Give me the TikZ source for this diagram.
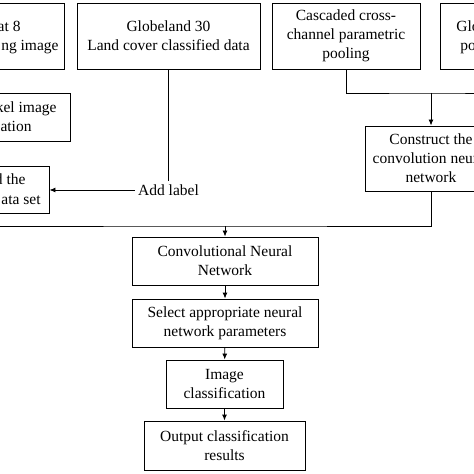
\documentclass[tikz,border=0pt]{standalone}
\usepackage{fontspec}
\setmainfont{Liberation Serif}
\usetikzlibrary{arrows.meta}
\tikzset{
	box/.style={draw, align=center, inner sep=0pt, font=\fontsize{15.5bp}{19bp}\selectfont},
	txt/.style={inner sep=0pt, font=\fontsize{15.5bp}{19bp}\selectfont},
	arr/.style={-{Latex[length=6bp,width=5bp]}}
}
\begin{document}
\begin{tikzpicture}[x=1bp, y=-1bp, line width=.9bp]
		\def \top{36}
		\def \th{66bp}
		\useasboundingbox (0,0) rectangle (474,474);
		\clip (0,0) rectangle (474,474);
		\fill[white] (0,0) rectangle (474,474);
		% top row
		\node[box, minimum width=154bp, minimum height=\th] (land) at (-13,\top) {};
		\node[txt, anchor=base east] (land1) at (21,32) {at 8};
		\node[txt, anchor=base east] (land2) at (59,51) {ng image};
		\node[box, minimum width=183bp, minimum height=\th] (globe) at (168.5,\top) {Globeland 30\\Land cover classified data};
		\node[box, minimum width=148bp, minimum height=\th] (casc) at (346,\top) {Cascaded cross-\\channel parametric\\pooling};
		\node[box, minimum width=120bp, minimum height=\th] (gap) at (500,\top) {};
		\node[txt, anchor=base west] (gap1) at (456,32) {Glo};
		\node[txt, anchor=base west] (gap2) at (460,51) {po};
		% left column
		\node[box, minimum width=150bp, minimum height=48bp] (spix) at (-5,117) {};
		\node[txt, anchor=base east] (spix1) at (57,113) {kel image};
		\node[txt, anchor=base east] (spix2) at (32,132) {ation};
		\node[box, minimum width=140bp, minimum height=47bp] (build) at (-21,189.5) {};
		\node[txt, anchor=base east] (build1) at (26,185) {d the};
		\node[txt, anchor=base east] (build2) at (41,204.5) {ata set};
		\node[txt, inner sep=3bp] (label) at (168.5,190) {Add label};
		% right column
		\node[box, minimum width=132bp, minimum height=65bp] (cons) at (431,158.5) {Construct the\\convolution neural\\network};
		% main column
		\node[box, minimum width=186bp, minimum height=48bp] (cnn) at (225,261) {Convolutional Neural\\Network};
		\node[box, minimum width=186bp, minimum height=48bp] (sel) at (225,323) {Select appropriate neural\\network parameters};
		\node[box, minimum width=117bp, minimum height=48bp] (cls) at (224.5,384) {Image\\classification};
		\node[box, minimum width=161bp, minimum height=49bp] (out) at (224.5,445.5) {Output classification\\results};
		% connectors
		\coordinate (join) at (431,93);
		\coordinate (merge) at (225,226);
		\draw (globe.south) -- (label.north);
		\draw[arr] (label.west) -- (label.west -| build.east);
		\draw (casc.south) |- (join) -| (gap.south);
		\draw[arr] (join) -- (cons.north);
		\draw (cons.south) |- (merge) -| (build.south);
		\draw[arr] (merge) -- (cnn.north);
		\draw[arr] (cnn) -- (sel);
		\draw[arr] (sel) -- (cls);
		\draw[arr] (cls) -- (out);
	\end{tikzpicture}
\end{document}
